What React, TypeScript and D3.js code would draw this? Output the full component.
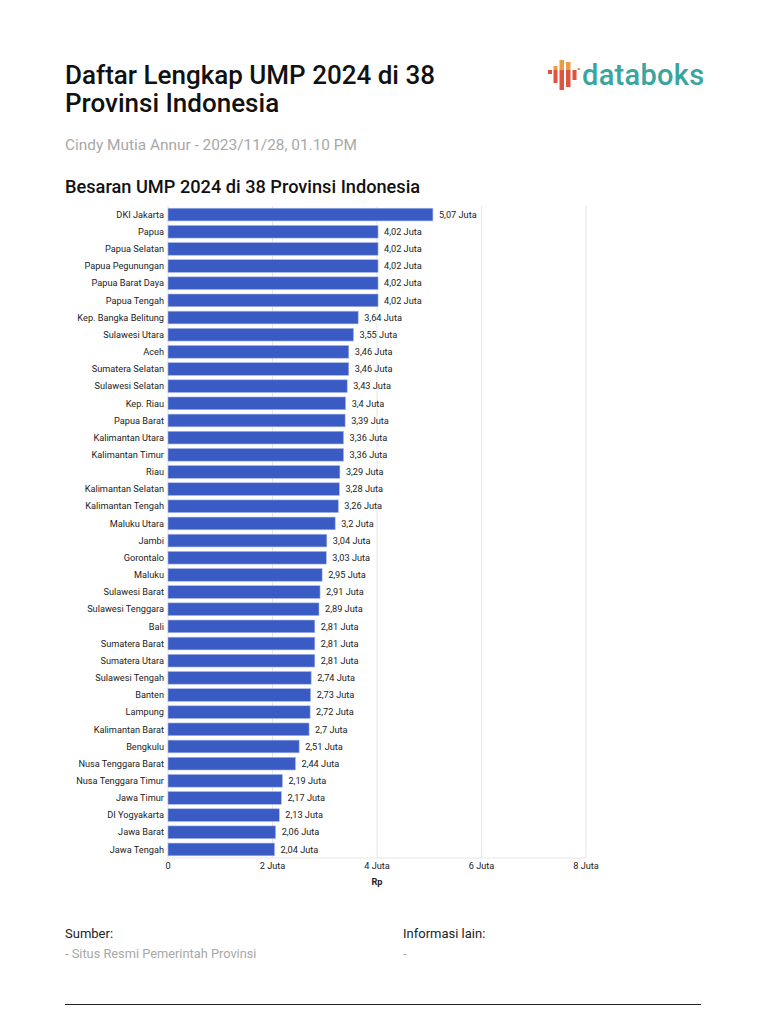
import React from "react";
import * as d3 from "d3";

const provinces = [
  "DKI Jakarta", "Papua", "Papua Selatan", "Papua Pegunungan", "Papua Barat Daya", "Papua Tengah",
  "Kep. Bangka Belitung", "Sulawesi Utara", "Aceh", "Sumatera Selatan", "Sulawesi Selatan", "Kep. Riau",
  "Papua Barat", "Kalimantan Utara", "Kalimantan Timur", "Riau", "Kalimantan Selatan", "Kalimantan Tengah",
  "Maluku Utara", "Jambi", "Gorontalo", "Maluku", "Sulawesi Barat", "Sulawesi Tenggara", "Bali",
  "Sumatera Barat", "Sumatera Utara", "Sulawesi Tengah", "Banten", "Lampung", "Kalimantan Barat",
  "Bengkulu", "Nusa Tenggara Barat", "Nusa Tenggara Timur", "Jawa Timur", "DI Yogyakarta", "Jawa Barat", "Jawa Tengah",
];
const values = [
  5.07, 4.02, 4.02, 4.02, 4.02, 4.02, 3.64, 3.55, 3.46, 3.46, 3.43, 3.4, 3.39, 3.36, 3.36, 3.29, 3.28, 3.26,
  3.2, 3.04, 3.03, 2.95, 2.91, 2.89, 2.81, 2.81, 2.81, 2.74, 2.73, 2.72, 2.7, 2.51, 2.44, 2.19, 2.17, 2.13, 2.06, 2.04,
];
const xTicks = [0, 2, 4, 6, 8];

const fmt = (v: number) => String(v).replace(".", ",");

export default function App() {
  const W = 768, H = 1024;
  const x = d3.scaleLinear().domain([0, 8]).range([168, 586]);
  const y = d3.scaleBand<string>().domain(provinces).range([206, 858]).paddingInner(0.26).paddingOuter(0.13);
  const font = "Roboto, 'Noto Sans', sans-serif";
  // logo icon: orange part above the mid line, red part below
  const logoBars = [
    { x: 548, up: 0, down: 4, w: 4 },
    { x: 553.5, up: 4, down: 13, w: 4 },
    { x: 559.5, up: 10, down: 20, w: 4.5 },
    { x: 566, up: 8, down: 17, w: 4.5 },
    { x: 572.5, up: 0, down: 10, w: 4 },
    { x: 577.5, up: 2, down: 0, w: 2.5 },
  ];
  const mid = 70;
  return (
    <svg width={W} height={H} style={{ position: "absolute", left: 0, top: 0, background: "#fff" }} fontFamily={font}>
      <rect x={0} y={0} width={W} height={H} fill="#fff" />
      <text x={65} y={84} fontSize={26} fontWeight={500} fill="#111">Daftar Lengkap UMP 2024 di 38</text>
      <text x={65} y={112} fontSize={26} fontWeight={500} fill="#111">Provinsi Indonesia</text>
      <g>
        {logoBars.map((b, i) => (
          <g key={i}>
            {b.up > 0 && <rect x={b.x} y={mid - b.up} width={b.w} height={b.up} fill="#eb9a45" />}
            {b.down > 0 && <rect x={b.x} y={mid} width={b.w} height={b.down} fill="#e0533f" />}
          </g>
        ))}
      </g>
      <text x={582} y={85} fontSize={29} fontWeight={500} fill="#3aa59f" letterSpacing={0.3}>databoks</text>
      <text x={65} y={150} fontSize={15.4} fill="#a8a8a8">Cindy Mutia Annur - 2023/11/28, 01.10 PM</text>
      <text x={65} y={193} fontSize={18.2} fontWeight={500} fill="#111">Besaran UMP 2024 di 38 Provinsi Indonesia</text>

      {xTicks.map((t) => (
        <line key={"g" + t} x1={x(t)} x2={x(t)} y1={206} y2={858} stroke="#e6e6e6" strokeWidth={1} />
      ))}
      <line x1={168} x2={586} y1={858} y2={858} stroke="#e6e6e6" />
      {provinces.map((p, i) => {
        const yy = y(p)!;
        const bh = y.bandwidth();
        return (
          <g key={p}>
            <rect x={x(0)} y={yy} width={x(values[i]) - x(0)} height={bh} fill="#3a5bc4" stroke="#a9b8ea" strokeWidth={0.6} />
            <text x={x(0) - 4} y={yy + bh / 2} dy="0.35em" textAnchor="end" fontSize={9.2} fill="#222">{p}</text>
            <text x={x(values[i]) + 6} y={yy + bh / 2} dy="0.35em" fontSize={9.2} fill="#222">{fmt(values[i])} Juta</text>
          </g>
        );
      })}
      {xTicks.map((t) => (
        <text key={"t" + t} x={x(t)} y={869} textAnchor="middle" fontSize={9.2} fill="#222">{t === 0 ? "0" : `${t} Juta`}</text>
      ))}
      <text x={377} y={885} textAnchor="middle" fontSize={9.2} fontWeight={700} fill="#222">Rp</text>

      <text x={65} y={938} fontSize={13} fill="#222">Sumber:</text>
      <text x={65} y={958} fontSize={12.8} fill="#a8a8a8">- Situs Resmi Pemerintah Provinsi</text>
      <text x={403} y={938} fontSize={13} fill="#222">Informasi lain:</text>
      <text x={403} y={958} fontSize={12.8} fill="#a8a8a8">-</text>
      <line x1={65} x2={701} y1={1004.5} y2={1004.5} stroke="#222" strokeWidth={1} />
    </svg>
  );
}
